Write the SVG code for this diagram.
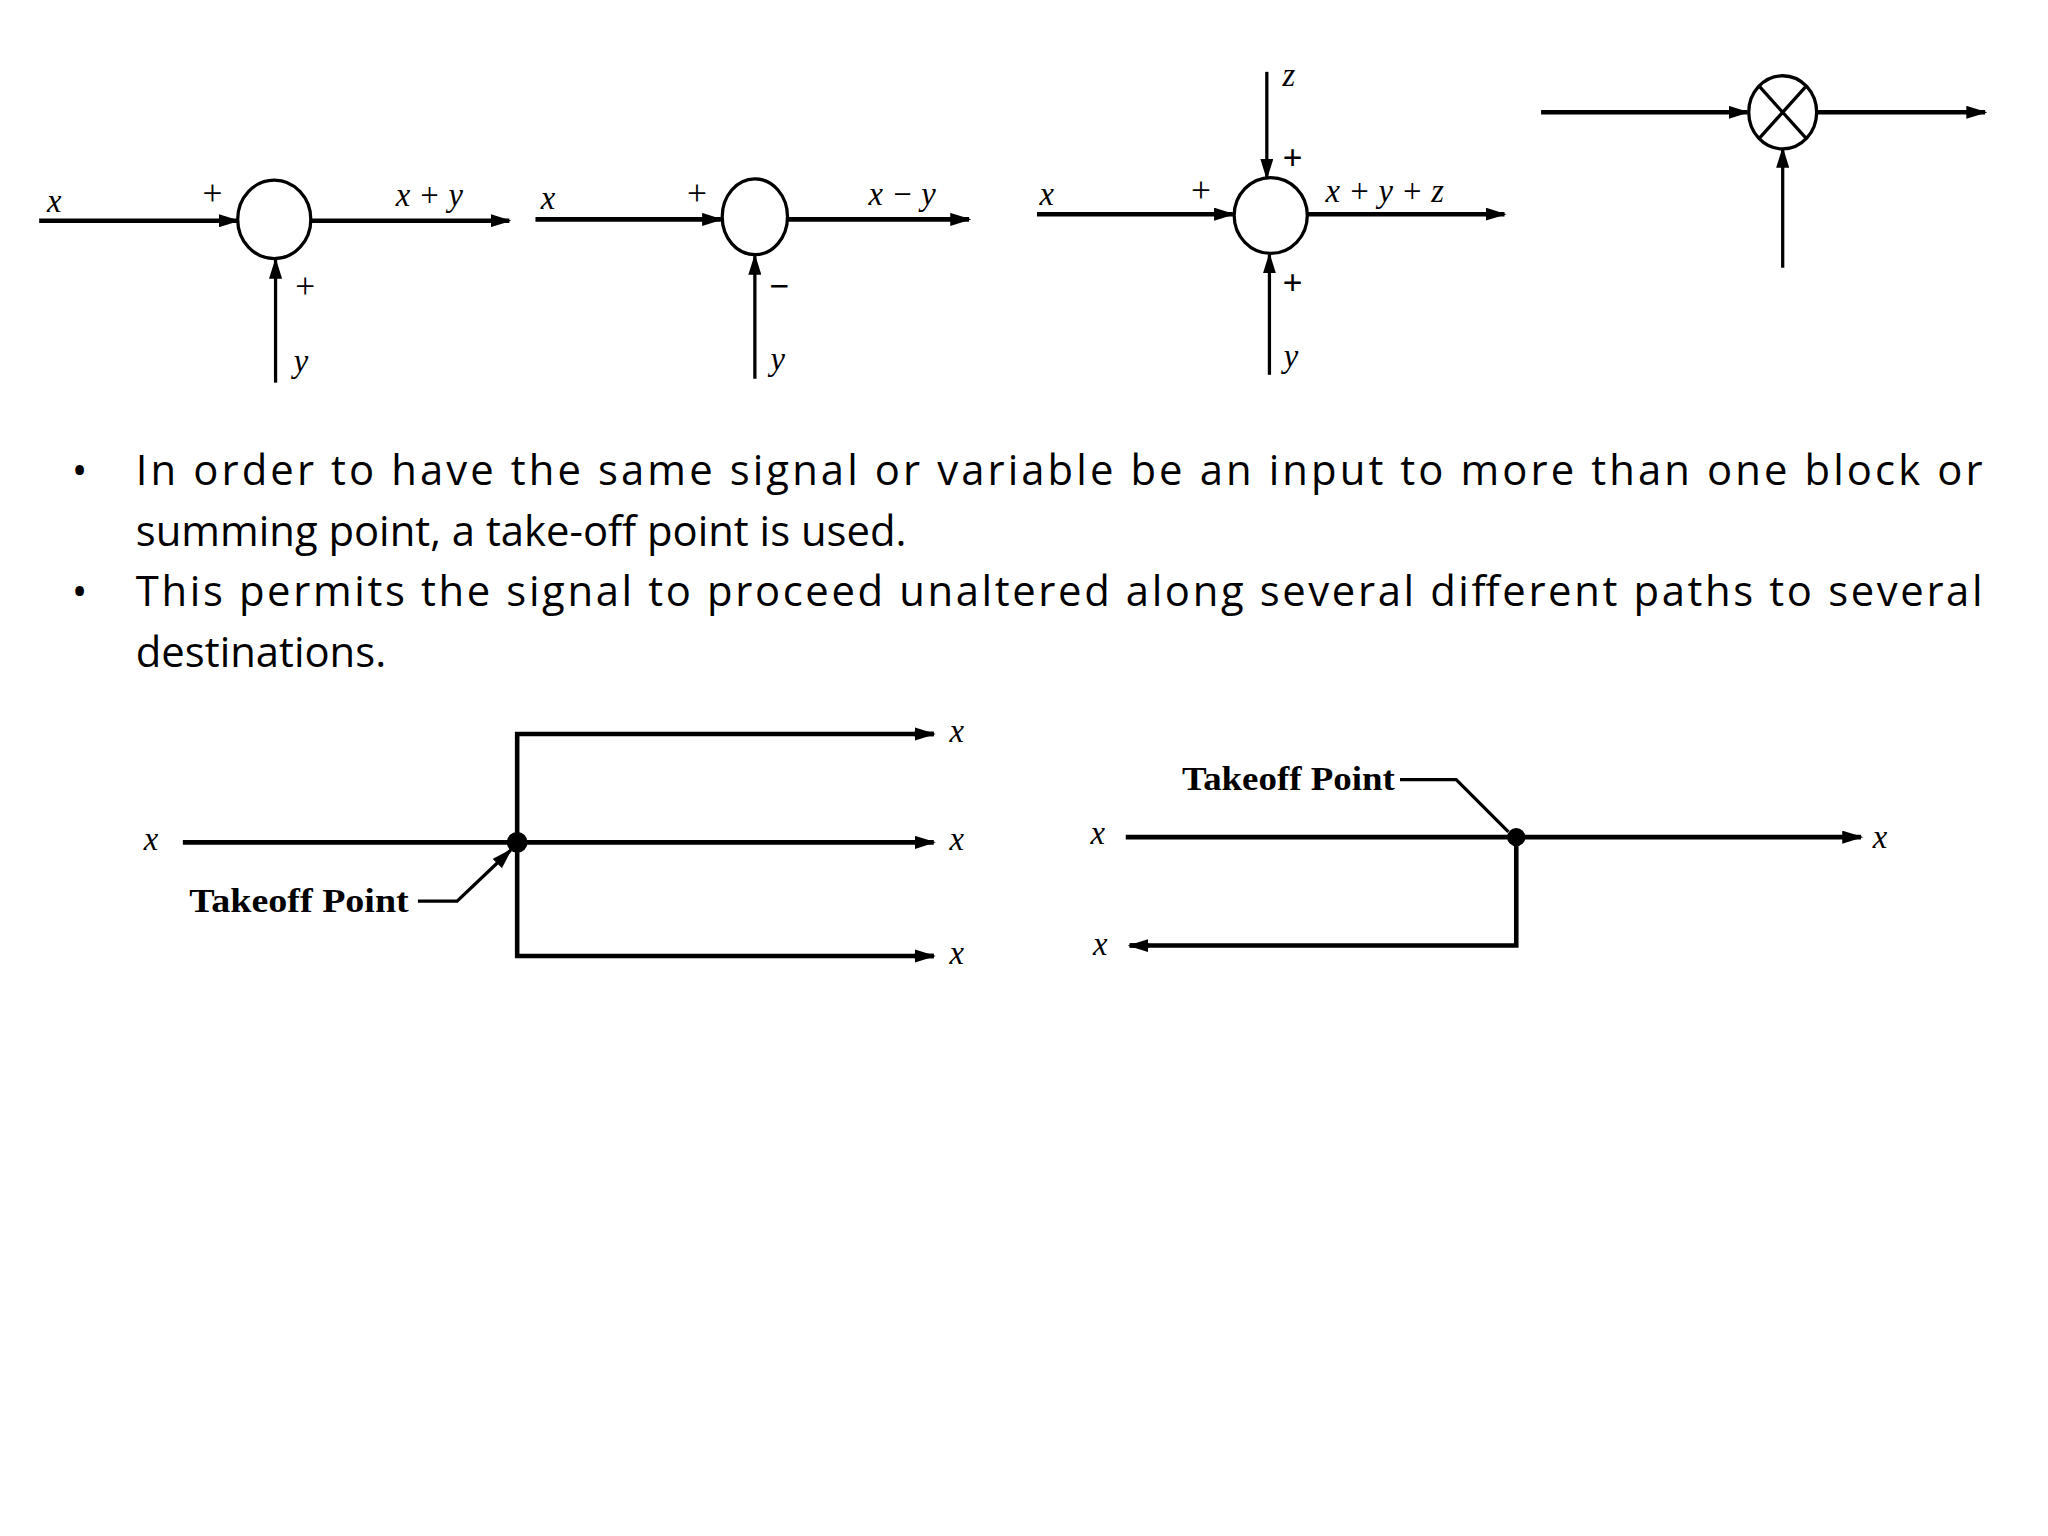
<svg xmlns="http://www.w3.org/2000/svg" width="2048" height="1536" viewBox="0 0 2048 1536">
<style>
.ln{stroke:#000;stroke-width:2.5;fill:none}
.th{stroke:#000;stroke-width:3.5;fill:none}
.c{stroke:#000;stroke-width:2.5;fill:#fff}
.m{font-family:"Liberation Serif",serif;font-style:italic;font-size:25px}
.p{font-family:"Liberation Serif",serif;font-size:27px}
.b{font-family:"Open Sans","Liberation Sans",sans-serif;font-size:32px}
.tk{font-family:"Liberation Serif",serif;font-weight:bold;font-size:25px}
</style>
<defs>
<marker id="ah" viewBox="0 0 10 10" refX="9" refY="5" markerWidth="16" markerHeight="10" orient="auto" markerUnits="userSpaceOnUse" preserveAspectRatio="none"><path d="M0,0L10,5L0,10z"/></marker>
</defs>
<rect width="2048" height="1536" fill="#fff"/>
<g transform="scale(1.306)">
<g id="connectors">
<line class="th" x1="30" y1="169" x2="182" y2="169" marker-end="url(#ah)"/>
<line class="th" x1="238" y1="169" x2="390" y2="169" marker-end="url(#ah)"/>
<line class="ln" x1="211" y1="293" x2="211" y2="199" marker-end="url(#ah)"/>
<line class="th" x1="410" y1="168" x2="552" y2="168" marker-end="url(#ah)"/>
<line class="th" x1="603" y1="168" x2="742" y2="168" marker-end="url(#ah)"/>
<line class="ln" x1="578" y1="290" x2="578" y2="196" marker-end="url(#ah)"/>
<line class="th" x1="794" y1="164" x2="944" y2="164" marker-end="url(#ah)"/>
<line class="th" x1="1001" y1="164" x2="1152" y2="164" marker-end="url(#ah)"/>
<line class="ln" x1="970" y1="55" x2="970" y2="136" marker-end="url(#ah)"/>
<line class="ln" x1="972" y1="287" x2="972" y2="195" marker-end="url(#ah)"/>
<line class="th" x1="1180" y1="86" x2="1338" y2="86" marker-end="url(#ah)"/>
<line class="th" x1="1392" y1="86" x2="1520" y2="86" marker-end="url(#ah)"/>
<line class="ln" x1="1365" y1="205" x2="1365" y2="114" marker-end="url(#ah)"/>
<line class="th" x1="140" y1="645" x2="715" y2="645" marker-end="url(#ah)"/>
<polyline class="th" points="715,562 396,562 396,732 715,732"/>
<line class="th" x1="700" y1="562" x2="715" y2="562" marker-end="url(#ah)"/>
<line class="th" x1="700" y1="732" x2="715" y2="732" marker-end="url(#ah)"/>
<polyline class="ln" points="320,690 350,690 390,652"/>
<line class="ln" x1="385" y1="657" x2="391" y2="651" marker-end="url(#ah)"/>
<line class="th" x1="862" y1="641" x2="1425" y2="641" marker-end="url(#ah)"/>
<polyline class="th" points="1161,641 1161,724 865,724"/>
<line class="th" x1="880" y1="724" x2="865" y2="724" marker-end="url(#ah)"/>
<polyline class="ln" points="1072,597 1115,597 1155,637"/>
</g>
<g id="sum1"><ellipse class="c" cx="210" cy="168" rx="28" ry="30"/></g>
<g id="sum2"><ellipse class="c" cx="578" cy="166" rx="25" ry="29"/></g>
<g id="sum3"><ellipse class="c" cx="973" cy="165" rx="28" ry="29"/></g>
<g id="mult"><ellipse class="c" cx="1365" cy="86" rx="26" ry="28"/><line class="ln" x1="1347" y1="66" x2="1383" y2="106"/><line class="ln" x1="1383" y1="66" x2="1347" y2="106"/></g>
<g id="tp1"><circle cx="396" cy="645" r="8"/></g>
<g id="tp2"><circle cx="1161" cy="641" r="7"/></g>
<g id="labels">
<text class="m" x="36" y="162">x</text><text class="p" x="155" y="157">+</text><text class="m" x="303" y="158">x + y</text>
<text class="p" x="226" y="228">+</text><text class="m" x="225" y="285">y</text>
<text class="m" x="414" y="160">x</text><text class="p" x="526" y="157">+</text><text class="m" x="665" y="157">x − y</text>
<text class="p" x="589" y="228" font-weight="bold">−</text><text class="m" x="590" y="283">y</text>
<text class="m" x="796" y="157">x</text><text class="p" x="912" y="155">+</text><text class="m" x="1015" y="155">x + y + z</text>
<text class="m" x="982" y="66">z</text><text class="p" x="982" y="130" font-weight="bold">+</text>
<text class="p" x="982" y="226" font-weight="bold">+</text><text class="m" x="983" y="281">y</text>
<text class="m" x="727" y="568">x</text><text class="m" x="727" y="651">x</text><text class="m" x="727" y="738">x</text>
<text class="m" x="110" y="651">x</text>
<text class="tk" x="145" y="698" textLength="168" lengthAdjust="spacingAndGlyphs">Takeoff Point</text>
<text class="tk" x="905" y="605" textLength="163" lengthAdjust="spacingAndGlyphs">Takeoff Point</text>
<text class="m" x="835" y="646">x</text><text class="m" x="837" y="731">x</text><text class="m" x="1434" y="649">x</text>
</g>
<g id="bullets" class="b">
<text x="55" y="371">•</text>
<text x="104" y="371" textLength="1414" lengthAdjust="spacing">In order to have the same signal or variable be an input to more than one block or</text>
<text x="104" y="418">summing point, a take-off point is used.</text>
<text x="55" y="464">•</text>
<text x="104" y="464" textLength="1414" lengthAdjust="spacing">This permits the signal to proceed unaltered along several different paths to several</text>
<text x="104" y="511">destinations.</text>
</g>
</g>
</svg>
